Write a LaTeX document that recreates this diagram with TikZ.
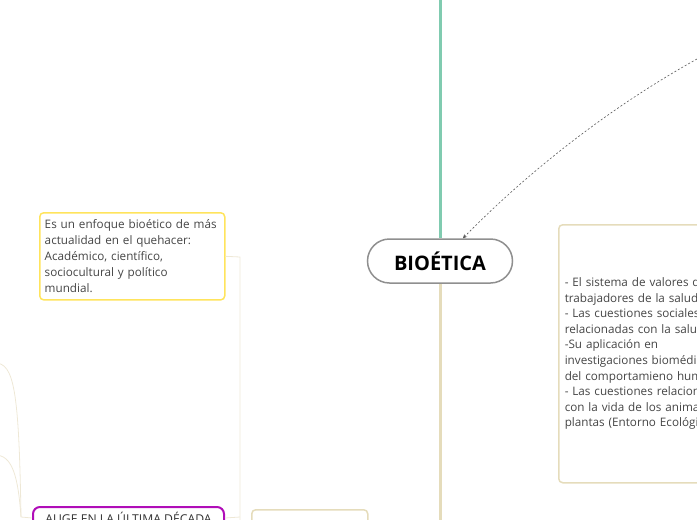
\documentclass[tikz,border=0pt]{standalone}
\usepackage{fontspec}
\setmainfont{Open Sans}
\usetikzlibrary{arrows.meta}

\definecolor{trunkgreen}{HTML}{80CBB0}
\definecolor{trunkbeige}{HTML}{E5DCBB}
\definecolor{thinbeige}{HTML}{EEE8D6}
\definecolor{noteyellow}{HTML}{FFE45C}
\definecolor{notepurple}{HTML}{B00DB8}
\definecolor{rootgray}{HTML}{8F8F8F}
\definecolor{inkgray}{HTML}{454545}

\tikzset{
  rootbox/.style={draw=rootgray, line width=1.5pt, rounded corners=22pt,
    minimum width=145pt, minimum height=44pt, inner sep=0pt,
    font=\fontsize{20}{24}\selectfont\bfseries},
  notebox/.style={rounded corners=4pt, inner xsep=5pt, inner ysep=7pt, align=left,
    text=inkgray, font=\fontsize{11.7}{16}\selectfont},
  link/.style={draw=thinbeige, line width=0.8pt}
}

\begin{document}
\begin{tikzpicture}[x=1pt,y=-1pt]

\pgfmathsetmacro{\trunkx}{440}

\useasboundingbox (0,0) rectangle (697,520);
\clip (0,0) rectangle (697,520);

\node[rootbox] (bio) at (\trunkx,261) {BIOÉTICA};

\draw[trunkgreen, line width=3pt] (\trunkx,0) -- (bio.north);
\draw[trunkbeige, line width=3pt] (bio.south) -- (\trunkx,525);

% notas de la izquierda
\node[notebox, draw=noteyellow, line width=1.5pt, anchor=north west,
  text width=175pt] (enfoque) at (39,212)
  {Es un enfoque bioético de más\\actualidad en el quehacer:\\Académico, científico,\\sociocultural y político\\mundial.};
\node[notebox, draw=notepurple, line width=2pt, rounded corners=7pt,
  anchor=north, minimum width=191pt, minimum height=22pt, inner ysep=0pt,
  align=center, font=\fontsize{12.2}{14}\selectfont, text=black!80] (auge) at (128.5,506)
  {AUGE EN LA ÚLTIMA DÉCADA};
\node[draw=trunkbeige, line width=1.5pt, rounded corners=4pt, anchor=north west,
  minimum width=116pt, minimum height=40pt] (abajo) at (251,509) {};

\coordinate (knot) at (240,257);
\draw[link] (enfoque.east) -- (knot) -- (240,525);
\draw[link] (auge.east) -- (240,517);

\coordinate (lftA) at (-5,363);
\coordinate (lftB) at (-5,455);
\coordinate (join) at (21,517);
\draw[link] (lftA) .. controls (14,363) and (19,390) .. (join);
\draw[link] (lftB) .. controls (12,455) and (18,475) .. (join);
\draw[link] (join) -- (auge.west);

% nota de la derecha
\node[notebox, draw=trunkbeige, line width=1.5pt, anchor=north west,
  inner xsep=6pt, text width=240pt, minimum height=258pt,
  font=\fontsize{11.7}{15.6}\selectfont] (valores) at (558,224)
  {- El sistema de valores de los\\trabajadores de la salud.\\- Las cuestiones sociales\\relacionadas con la salud.\\-Su aplicación en\\investigaciones biomédicas y\\del comportamieno humano.\\- Las cuestiones relacionadas\\con la vida de los animales y\\plantas (Entorno Ecológico).};

\coordinate (src) at (697,59);
\draw[black!65, line width=0.6pt, dash pattern=on 2pt off 2pt, -{Stealth[length=4pt,width=4pt]}]
  (src) .. controls (600,113) and (520,180) .. ([xshift=23pt]bio.north);

\end{tikzpicture}
\end{document}
